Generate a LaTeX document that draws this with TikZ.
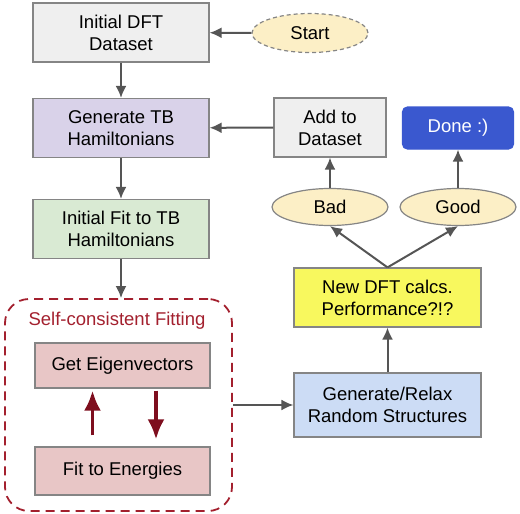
\documentclass[tikz,border=0pt]{standalone}
\usepackage{fontspec}
\setmainfont{Liberation Sans}
\usepackage{tikz}
\usetikzlibrary{arrows.meta}
\usetikzlibrary{shapes.geometric}

\definecolor{boxline}{HTML}{858585}
\definecolor{arrowgray}{HTML}{555555}
\definecolor{dftgray}{HTML}{EFEFEF}
\definecolor{genpurple}{HTML}{D9D2E9}
\definecolor{fitgreen}{HTML}{D9EAD3}
\definecolor{scfpink}{HTML}{E8C6C6}
\definecolor{framered}{HTML}{A3202E}
\definecolor{arrowred}{HTML}{7E0E1E}
\definecolor{ovalyellow}{HTML}{FCEFC6}
\definecolor{newyellow}{HTML}{F8F85E}
\definecolor{relaxblue}{HTML}{CCDCF5}
\definecolor{doneblue}{HTML}{3A58CF}

\tikzset{
  box/.style={draw=boxline, line width=1.2pt, align=center, inner sep=0pt,
    minimum width=176pt, minimum height=59pt, text=black},
  oval/.style={ellipse, draw=boxline, line width=1.2pt, fill=ovalyellow,
    inner sep=0pt, minimum width=116pt, minimum height=37pt, text=black},
  flow/.style={draw=arrowgray, line width=2pt, -{Latex[length=12pt,width=11pt]}},
  loop/.style={draw=arrowred, line width=3.5pt, -{Latex[length=20pt,width=17pt]}}
}

\begin{document}
\begin{tikzpicture}[x=1pt,y=-1pt,font=\fontsize{18.5}{22}\selectfont]
    \useasboundingbox (0,0) rectangle (520,514);
    % left column
    \node[box,fill=dftgray] (init) at (121,32.5) {Initial DFT\\Dataset};
    \node[box,fill=genpurple] (gen) at (121,128) {Generate TB\\Hamiltonians};
    \node[box,fill=fitgreen] (initfit) at (121,229) {Initial Fit to TB\\Hamiltonians};
    \node[oval,dashed,dash pattern=on 4pt off 3pt,minimum height=39pt] (start) at (310,33) {Start};
    % self-consistent loop
    \node[draw=framered,line width=1.8pt,dash pattern=on 9pt off 6pt,rounded corners=24pt,
      minimum width=227pt,minimum height=212pt] (scf) at (118.5,405) {};
    \node[text=framered] (scflabel) at (117,321) {Self-consistent Fitting};
    \node[box,fill=scfpink,minimum width=175pt,minimum height=45pt] (eig) at (122.5,365.5) {Get Eigenvectors};
    \node[box,fill=scfpink,minimum width=175pt,minimum height=48pt] (energy) at (122.5,471) {Fit to Energies};
    % right column
    \node[box,fill=relaxblue,minimum width=187pt,minimum height=64pt] (relax) at (387.5,405) {Generate/Relax\\Random Structures};
    \node[box,fill=newyellow,minimum width=187pt,minimum height=59pt] (newdft) at (387.5,297.5) {New DFT calcs.\\Performance?!?};
    \node[oval] (bad) at (330,207) {Bad};
    \node[oval] (good) at (458,207) {Good};
    \node[box,fill=dftgray,minimum width=112pt] (add) at (330,127.5) {Add to\\Dataset};
    \node[box,fill=doneblue,draw=doneblue,text=white,rounded corners=5pt,
      minimum width=111pt,minimum height=42pt] (done) at (458,128) {Done :)};

    \draw[flow] (start) -- (init);
    \draw[flow] (init) -- (gen);
    \draw[flow] (gen) -- (initfit);
    \draw[flow] (initfit.south) -- (initfit.south |- scf.north);
    \draw[flow] (add) -- (gen);
    \draw[flow] (scf.east) -- (relax.west);
    \draw[flow] (relax) -- (newdft);
    \draw[flow] (newdft.north) -- (bad.south);
    \draw[flow] (newdft.north) -- (good.south);
    \draw[flow] (bad) -- (add);
    \draw[flow] (good) -- (done);
    \draw[loop,shorten <=11pt,shorten >=2pt] ([xshift=-30pt]energy.north) -- ([xshift=-30pt]eig.south);
    \draw[loop,shorten <=2pt,shorten >=7pt] ([xshift=33.5pt]eig.south) -- ([xshift=33.5pt]energy.north);
\end{tikzpicture}
\end{document}
